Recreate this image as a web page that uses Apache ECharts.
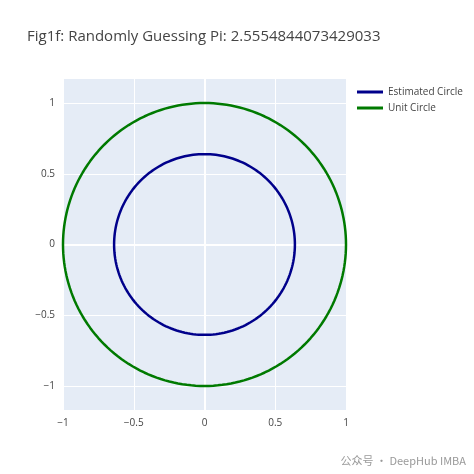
<!DOCTYPE html>
<html>
<head>
<meta charset="utf-8">
<script src="https://cdn.jsdelivr.net/npm/echarts@6/dist/echarts.min.js"></script>
<style>html,body{margin:0;padding:0;background:#fff}#main{width:474px;height:474px}</style>
</head>
<body>
<div id="main"></div>
<script>
var piGuess = 2.5554844073429033;
var seriesNames = ['Estimated Circle', 'Unit Circle'];
var radii = [piGuess / 4, 1];
var colors = ['#00008b', '#007a00'];
var tickValues = [-1, -0.5, 0, 0.5, 1];
var nPts = 200;

// points around a circle of given radius
function circle(r) {
    var pts = [];
    for (var i = 0; i <= nPts; i++) {
        var a = 2 * Math.PI * i / nPts;
        pts.push([r * Math.cos(a), r * Math.sin(a)]);
    }
    return pts;
}

var fmt = function (v) { return v < 0 ? '\u2212' + Math.abs(v) : String(v); };

var chart = echarts.init(document.getElementById('main'));
chart.setOption({
    animation: false,
    title: {
        text: 'Fig1f: Randomly Guessing Pi: ' + piGuess,
        left: 22, top: 24,
        textStyle: {color: '#444', fontSize: 15, fontWeight: 'normal', fontFamily: 'Open Sans'}
    },
    legend: {
        orient: 'vertical', left: 352, top: 82, itemGap: 6,
        itemWidth: 26, itemHeight: 3, icon: 'rect',
        textStyle: {color: '#444', fontSize: 10, fontFamily: 'Open Sans'},
        data: seriesNames
    },
    grid: {left: 63, right: 128, top: 79, bottom: 64, show: true, backgroundColor: '#e5ecf6', borderWidth: 0},
    xAxis: {
        type: 'value', min: -1, max: 1,
        axisLine: {show: false}, axisTick: {show: false}, splitLine: {show: false},
        axisLabel: {customValues: tickValues, formatter: fmt, color: '#444', fontSize: 10, fontFamily: 'Open Sans', margin: 8}
    },
    yAxis: {
        type: 'value', min: -1.17, max: 1.17,
        axisLine: {show: false}, axisTick: {show: false}, splitLine: {show: false},
        axisLabel: {customValues: tickValues, formatter: fmt, color: '#444', fontSize: 10, fontFamily: 'Open Sans', margin: 8}
    },
    graphic: [{
        type: 'text', right: 8, bottom: 8,
        style: {text: '公众号 · DeepHub IMBA', fill: '#999', font: '11px "Noto Sans CJK SC"'}
    }],
    series: [{
        type: 'line', data: [], silent: true, z: 0,
        markLine: {
            symbol: 'none', silent: true, label: {show: false}, z: 0,
            data: tickValues.map(function (v) { return {xAxis: v, lineStyle: {color: '#fff', width: v === 0 ? 2 : 1, type: 'solid'}}; })
                .concat(tickValues.map(function (v) { return {yAxis: v, lineStyle: {color: '#fff', width: v === 0 ? 2 : 1, type: 'solid'}}; }))
        }
    }].concat(seriesNames.map(function (n, i) {
        return {
            name: n, type: 'line', data: circle(radii[i]), showSymbol: false, z: 5,
            lineStyle: {color: colors[i], width: 2.5}, itemStyle: {color: colors[i]}
        };
    }))
});
</script>
</body>
</html>
